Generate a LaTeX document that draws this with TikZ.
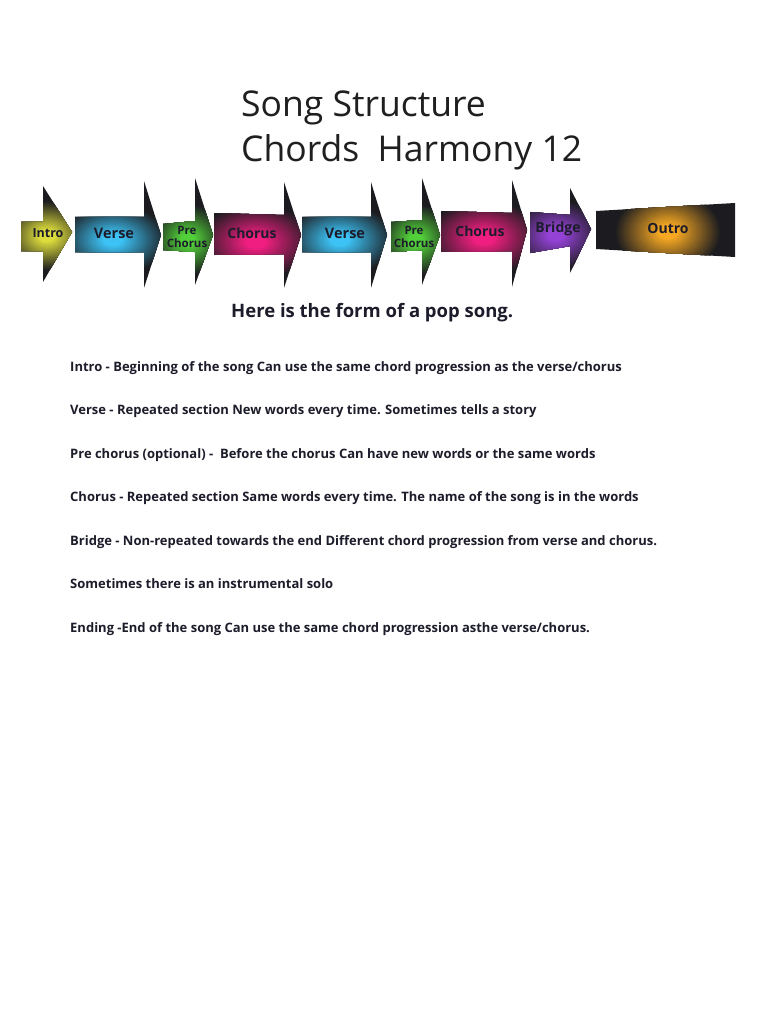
\documentclass[tikz,border=0pt]{standalone}
\usepackage{fontspec}
\setmainfont{Open Sans}
\definecolor{introc}{HTML}{DCDC3C}
\definecolor{versec}{HTML}{3CC2F4}
\definecolor{prec}{HTML}{52D03A}
\definecolor{chorc}{HTML}{F01E80}
\definecolor{bridc}{HTML}{9442D6}
\definecolor{outrc}{HTML}{F6A822}
\definecolor{txt}{HTML}{1C1C2A}
\definecolor{tipc}{HTML}{1C1C20}
% #1 colour, #2 closed path, #3 cx, #4 cy, #5 rx, #6 ry
\newcommand\garrow[6]{%
  \fill[tipc] #2;
  \begin{scope}
    \clip #2;
    \foreach \k in {1,...,32}{%
      \pgfmathsetmacro\f{1-(\k-1)/32}%
      \pgfmathtruncatemacro\p{min(100,100*\k/27)}%
      \fill[#1!\p!tipc] (#3,#4) ellipse [x radius=#5*\f, y radius=#6*\f];}
  \end{scope}}
\begin{document}
\begin{tikzpicture}[x=1pt,y=-1pt,
  lab/.style={font=\bfseries\fontsize{14}{15}\selectfont, text=txt, inner sep=0pt, align=center},
  smlab/.style={font=\bfseries\fontsize{11.5}{13}\selectfont, text=txt, inner sep=0pt, align=center},
  body/.style={font=\bfseries\fontsize{13}{15}\selectfont, text=txt, anchor=base west, inner sep=0pt},
  title/.style={font=\fontsize{35.5}{40}\selectfont, text=black!88, anchor=base west, inner sep=0pt}]
\useasboundingbox[fill=white] (0,0) rectangle (768,1024);
% title
\node[title] (t1) at (241,117) {Song Structure};
\node[title] (t2) at (241,162) {Chords\ \ Harmony 12};
% arrows
\garrow{introc}{(21,222) -- (43,222) -- (43,186) -- (72,232) -- (43,282) -- (43,251) -- (21,251) -- cycle}{47}{236}{44}{34}
\garrow{versec}{(75,217) -- (144,217) -- (144,181) -- (161,235) -- (144,288) -- (144,252) -- (75,252) -- cycle}{113}{240}{54}{35}
\garrow{prec}{(163,224) -- (195,221) -- (195,178) -- (213,235) -- (195,285) -- (195,252) -- (163,250) -- cycle}{188}{240}{38}{35}
\garrow{chorc}{(214,213) -- (284,215) -- (284,182) -- (301,235) -- (284,288) -- (284,254) -- (214,255) -- cycle}{256}{242}{57}{37}
\garrow{versec}{(302,217) -- (371,217) -- (371,182) -- (387,235) -- (371,288) -- (371,252) -- (302,252) -- cycle}{340}{240}{54}{35}
\garrow{prec}{(391,222) -- (422,220) -- (422,178) -- (440,235) -- (422,285) -- (422,250) -- (391,252) -- cycle}{416}{240}{38}{35}
\garrow{chorc}{(441,211) -- (512,213) -- (512,180) -- (527,230) -- (512,287) -- (512,251) -- (441,252) -- cycle}{484}{238}{57}{37}
\garrow{bridc}{(530,212) -- (570,215) -- (570,188) -- (591,229) -- (570,273) -- (570,246) -- (530,253) -- cycle}{556}{235}{46}{35}
\garrow{outrc}{(596,211) -- (735,203) -- (735,257) -- (596,249) -- cycle}{668}{232}{52}{40}
% labels
\node[lab, font=\bfseries\fontsize{12.5}{14}\selectfont] (intro) at (48,233) {Intro};
\node[lab, font=\bfseries\fontsize{14.5}{16}\selectfont] (verse1) at (114,233) {Verse};
\node[smlab] (pre1) at (187,237) {Pre\\Chorus};
\node[lab] (chorus1) at (252,233) {Chorus};
\node[lab, font=\bfseries\fontsize{14.5}{16}\selectfont] (verse2) at (345,233) {Verse};
\node[smlab] (pre2) at (414,237) {Pre\\Chorus};
\node[lab] (chorus2) at (480,231) {Chorus};
\node[lab] (bridge) at (558,229) {Bridge};
\node[lab] (outro) at (668,228) {Outro};
% subtitle
\node[font=\bfseries\fontsize{18.5}{21}\selectfont, text=txt, anchor=base west, inner sep=0pt] (sub) at (231,317) {Here is the form of a pop song.};
% body
\node[body] (l1) at (70,371) {Intro - Beginning of the song Can use the same chord progression as the verse/chorus};
\node[body] (l2) at (70,414.5) {Verse - Repeated section New words every time. Sometimes tells a story};
\node[body] (l3) at (70,458) {Pre chorus (optional) -\ \ Before the chorus Can have new words or the same words};
\node[body] (l4) at (70,501.5) {Chorus - Repeated section Same words every time. The name of the song is in the words};
\node[body] (l5) at (70,545) {Bridge - Non-repeated towards the end Different chord progression from verse and chorus.};
\node[body] (l6) at (70,588.5) {Sometimes there is an instrumental solo};
\node[body] (l7) at (70,632) {Ending -End of the song Can use the same chord progression asthe verse/chorus.};
\end{tikzpicture}
\end{document}
